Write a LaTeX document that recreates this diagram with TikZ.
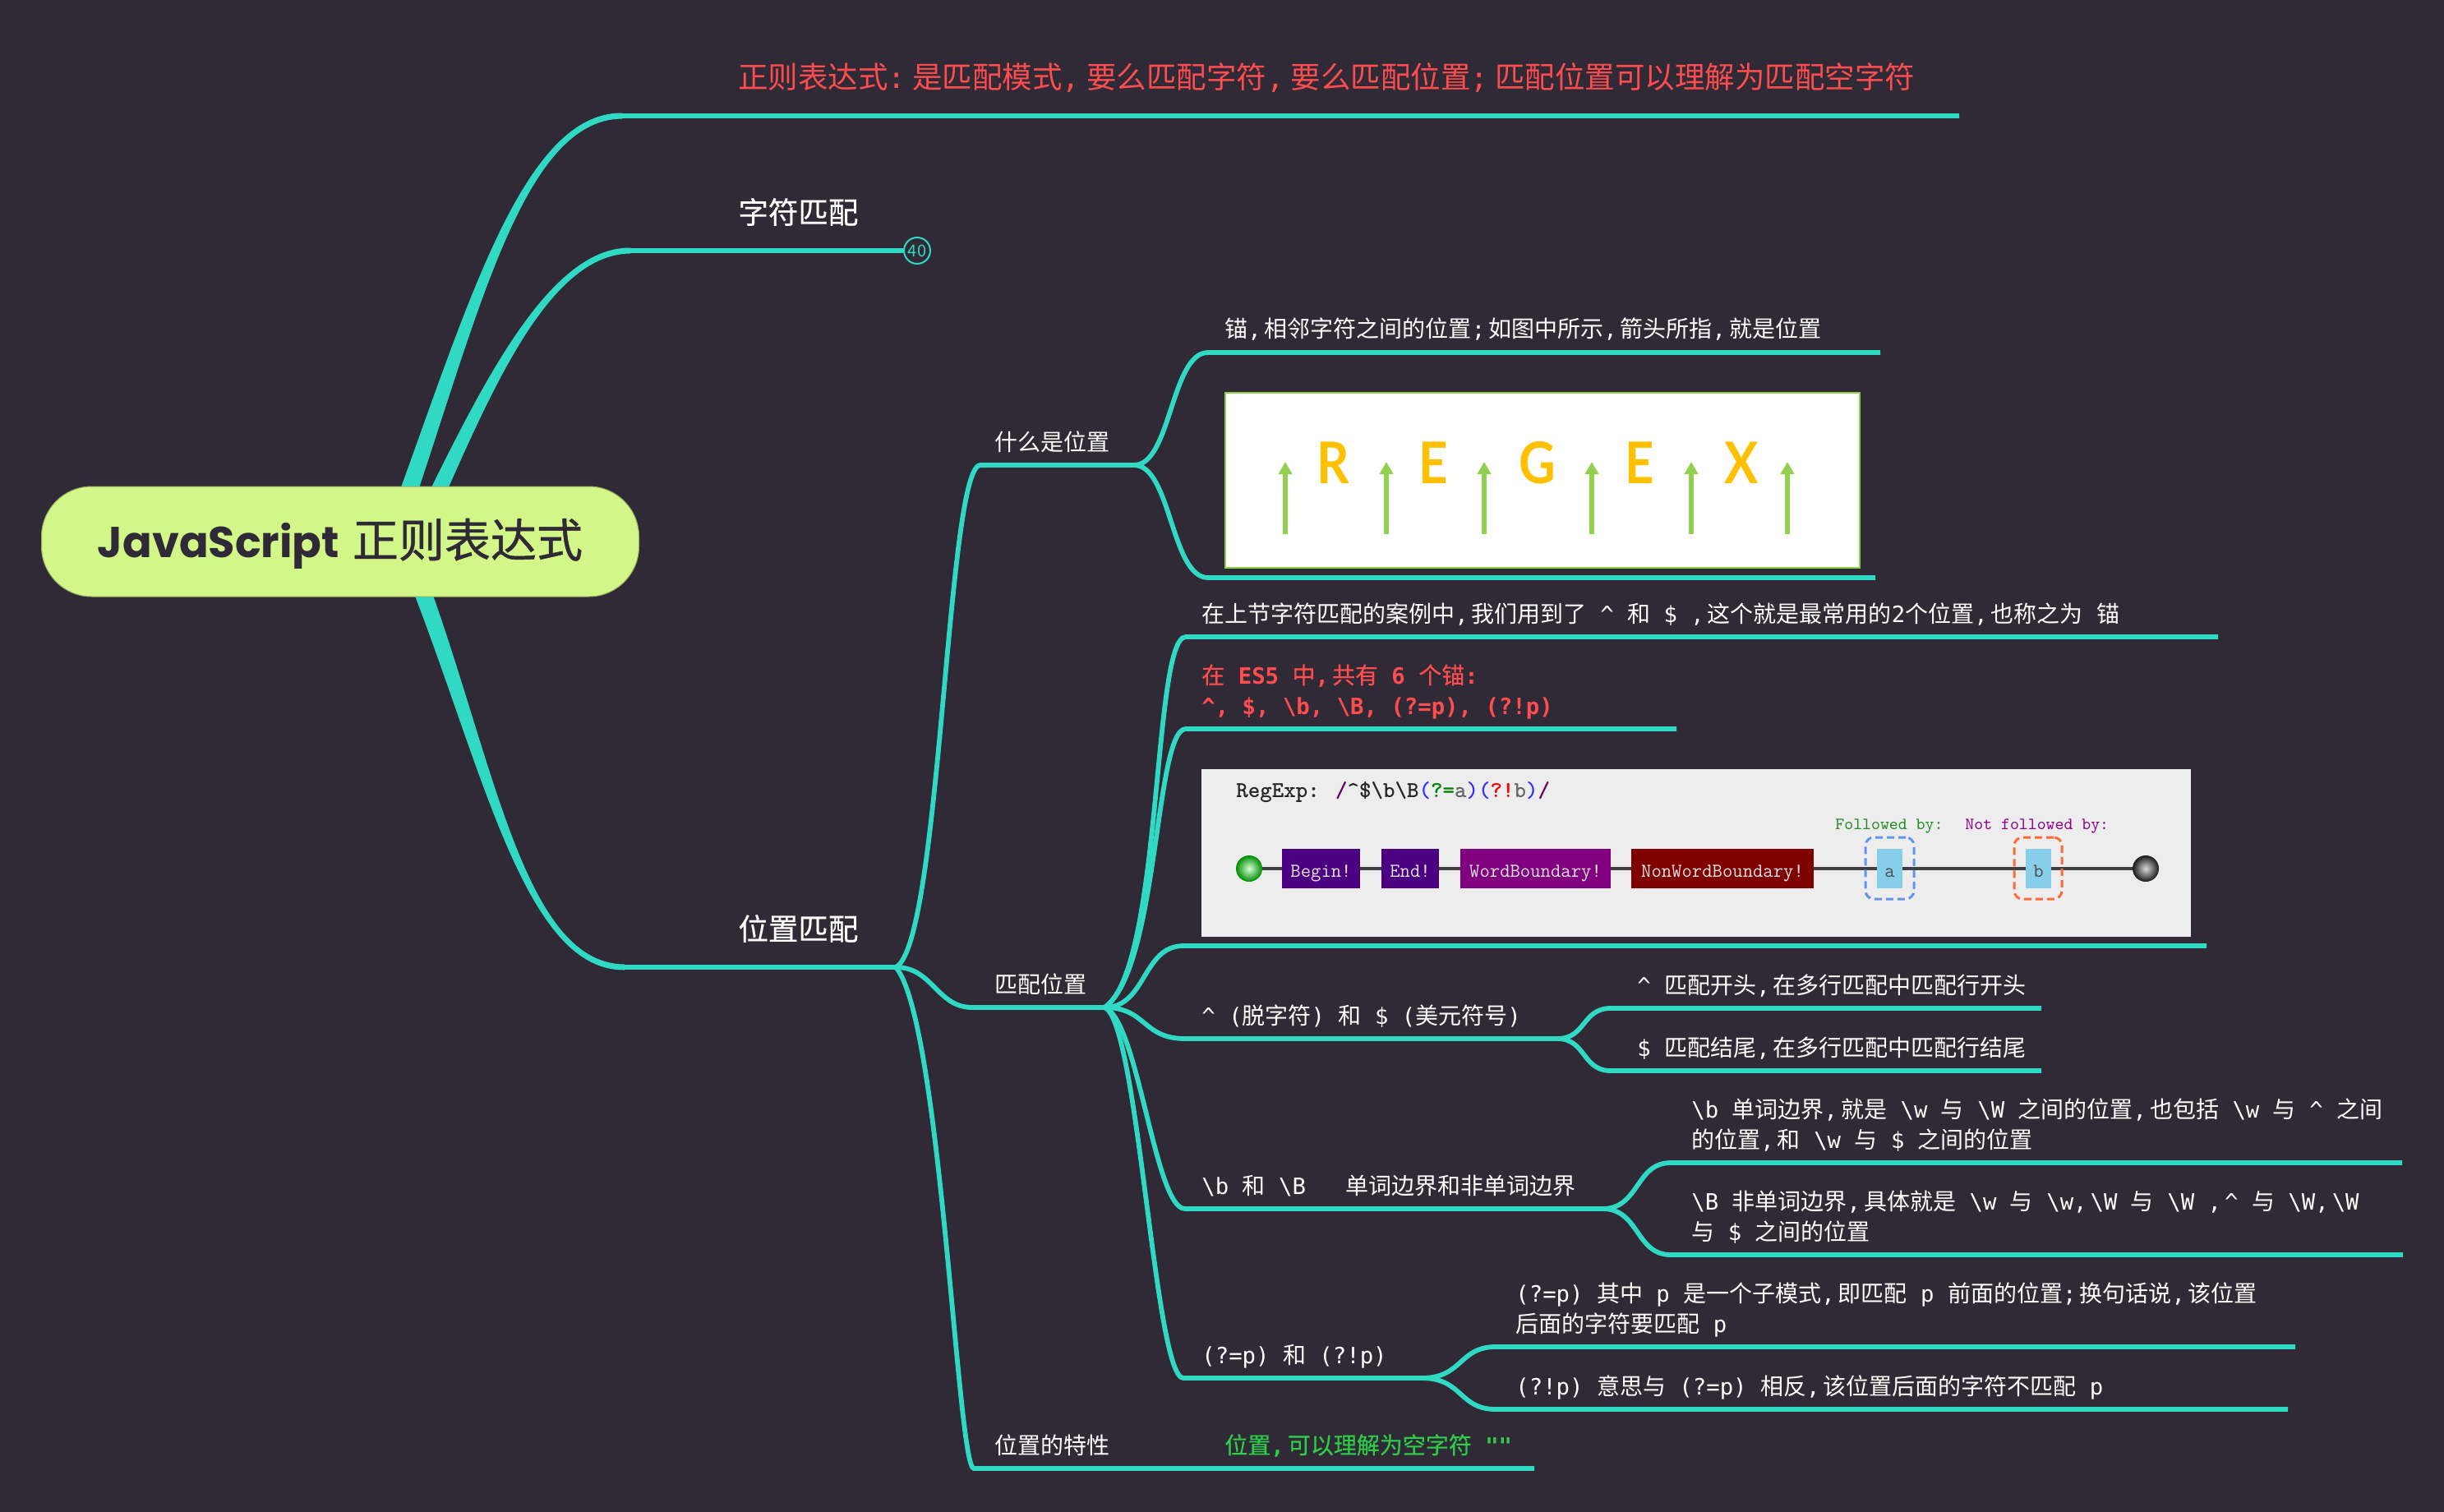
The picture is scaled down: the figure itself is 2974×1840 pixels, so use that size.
\documentclass[tikz,border=0pt]{standalone}
\usepackage{fontspec}
\usetikzlibrary{arrows.meta,shapes.geometric}
\setmainfont[Scale=0.975]{DejaVu Sans Mono}
\newfontfamily\rawm[Scale=0.975]{DejaVu Sans Mono}
\newfontfamily\cjk{Noto Sans CJK SC}
\newfontfamily\cjkm[FakeBold=0.4]{Noto Sans CJK SC}
\newfontfamily\cjkh[FakeBold=0.9]{Noto Sans CJK SC}
\newfontfamily\popp{Poppins}
\newfontfamily\regexf[FakeStretch=0.88]{Lato}
\newcommand{\C}[1]{{\cjk\mdseries #1}}
\newcommand{\Cm}[1]{{\cjkm\mdseries #1}}
\newcommand{\bs}{\textbackslash}
\newcommand{\ca}{\textasciicircum}
\newcommand{\cm}{,\hspace{2pt}}
\newcommand{\sm}{;\hspace{2pt}}
\newcommand{\cl}{:\hspace{2pt}}
\newcommand{\tc}{,\hspace{4pt}}
\newcommand{\ts}{;\hspace{4pt}}
\newcommand{\tl}{:\hspace{4pt}}
\newcommand{\twol}[2]{\vbox{\hbox{#1}\hbox{#2}}}
\definecolor{bgc}{HTML}{2F2A35}
\definecolor{mm}{HTML}{2FD9C4}
\definecolor{rootc}{HTML}{D2F788}
\definecolor{redc}{HTML}{FF4D4F}
\definecolor{greenc}{HTML}{2ECC48}
\definecolor{imgg}{HTML}{92D050}
\definecolor{imgy}{HTML}{FFC000}
\tikzset{
  mmline/.style={draw=mm,line width=2.9pt},
  lbl/.style={anchor=base west,inner sep=0pt,text=white,font=\fontsize{14}{18.5}\selectfont},
  big/.style={anchor=base west,inner sep=0pt,text=white,font=\fontsize{18.25}{22}\selectfont},
  rbox/.style={rectangle,inner sep=0pt,minimum height=24pt,text height=10pt,text depth=0pt,text=white!90!black,font=\ttfamily\fontsize{12}{14}\selectfont},
  lookbox/.style={rectangle,inner sep=0pt,minimum height=24pt,minimum width=15.5pt,text height=10pt,text depth=0pt,text=black!70,font=\ttfamily\fontsize{12}{14}\selectfont},
  dashbox/.style={rounded corners=5pt,dashed,dash pattern=on 4.5pt off 2.5pt,line width=1.5pt},
  regl/.style={anchor=base,inner sep=0pt,text=imgy,font=\regexf\bfseries\fontsize{35}{35}\selectfont},
  regarrow/.style={draw=imgg,line width=3pt,-{Triangle[width=8pt,length=7.5pt]}},
  ballnode/.style={circle,inner sep=0pt,minimum size=16pt},
  tlbl/.style={anchor=base west,inner sep=0pt,font=\ttfamily\fontsize{10.4}{12}\selectfont},
}
\begin{document}
\begin{tikzpicture}[x=0.5pt,y=-0.5pt]
\useasboundingbox (0,0) rectangle (2974,1840);
\fill[bgc] (0,0) rectangle (2974,1840);

% ---------- coordinates ----------
\coordinate (r1) at (476,658);
\coordinate (r2) at (505,658);
\coordinate (r3) at (490,658);
\coordinate (k1) at (757,141);   \coordinate (e1) at (2384,141);
\coordinate (k2) at (767,305);
\coordinate (k3) at (760,1177);  \coordinate (j3) at (1090,1177);
\coordinate (k31) at (1193,566); \coordinate (j31) at (1380,566);
\coordinate (k32) at (1183,1226);\coordinate (j32) at (1344,1226);
\coordinate (k33) at (1185,1787);\coordinate (e33) at (1867,1787);
\coordinate (k311) at (1470,429);\coordinate (e311) at (2288,429);
\coordinate (k312) at (1470,703);\coordinate (e312) at (2282,703);
\coordinate (k321) at (1443,775);\coordinate (e321) at (2699,775);
\coordinate (k322) at (1443,887);\coordinate (e322) at (2040,887);
\coordinate (k323) at (1440,1151);\coordinate (e323) at (2685,1151);
\coordinate (k324) at (1442,1264);\coordinate (j324) at (1895,1264);
\coordinate (k325) at (1442,1471);\coordinate (j325) at (1950,1471);
\coordinate (k326) at (1440,1677);\coordinate (j326) at (1730,1677);
\coordinate (a1) at (1960,1227); \coordinate (a1e) at (2484,1227);
\coordinate (a2) at (1960,1303); \coordinate (a2e) at (2484,1303);
\coordinate (b1) at (2033,1415); \coordinate (b1e) at (2923,1415);
\coordinate (b2) at (2033,1527); \coordinate (b2e) at (2924,1527);
\coordinate (c1) at (1820,1639); \coordinate (c1e) at (2793,1639);
\coordinate (c2) at (1820,1715); \coordinate (c2e) at (2784,1715);

% ---------- tapered main branches ----------
\draw[mmline] (r1) .. controls (570,400) and (630,141) .. (k1) -- (e1);
\fill[mm] (464,658) .. controls (562,398) and (630,136.5) .. (757,137.5) -- (757,144.5)
  .. controls (632,145.5) and (578,402) .. (488,658) -- cycle;
\draw[mmline] (r2) .. controls (580,500) and (660,305) .. (k2);
\fill[mm] (493,658) .. controls (573,497) and (660,300.5) .. (767,301.5) -- (767,308.5)
  .. controls (660,309.5) and (587,503) .. (517,658) -- cycle;
\draw[mmline] (r3) .. controls (590,900) and (630,1177) .. (k3) -- (j3);
\fill[mm] (478,658) .. controls (582,903) and (630,1181.5) .. (760,1180.5) -- (760,1173.5)
  .. controls (630,1172.5) and (598,897) .. (502,658) -- cycle;

% ---------- second level ----------
\draw[mmline] (j3) .. controls (1145,1150) and (1152,566) .. (k31) -- (j31);
\draw[mmline] (j3) .. controls (1135,1177) and (1140,1226) .. (k32) -- (j32);
\draw[mmline] (j3) .. controls (1145,1240) and (1165,1787) .. (k33) -- (e33);
% ---------- third level ----------
\draw[mmline] (j31) .. controls (1425,566) and (1425,429) .. (k311) -- (e311);
\draw[mmline] (j31) .. controls (1425,566) and (1425,703) .. (k312) -- (e312);
\draw[mmline] (j32) .. controls (1415,1180) and (1402,775) .. (k321) -- (e321);
\draw[mmline] (j32) .. controls (1410,1180) and (1405,887) .. (k322) -- (e322);
\draw[mmline] (j32) .. controls (1395,1226) and (1390,1151) .. (k323) -- (e323);
\draw[mmline] (j32) .. controls (1395,1226) and (1390,1264) .. (k324) -- (j324);
\draw[mmline] (j32) .. controls (1385,1240) and (1405,1471) .. (k325) -- (j325);
\draw[mmline] (j32) .. controls (1385,1240) and (1405,1677) .. (k326) -- (j326);
% ---------- fourth level ----------
\draw[mmline] (j324) .. controls (1930,1264) and (1925,1227) .. (a1) -- (a1e);
\draw[mmline] (j324) .. controls (1930,1264) and (1925,1303) .. (a2) -- (a2e);
\draw[mmline] (j325) .. controls (1995,1471) and (1990,1415) .. (b1) -- (b1e);
\draw[mmline] (j325) .. controls (1995,1471) and (1990,1527) .. (b2) -- (b2e);
\draw[mmline] (j326) .. controls (1780,1677) and (1775,1639) .. (c1) -- (c1e);
\draw[mmline] (j326) .. controls (1780,1677) and (1775,1715) .. (c2) -- (c2e);

% ---------- fold marker ----------
\node[circle,draw=mm,line width=1pt,minimum size=16pt,inner sep=0pt,text=mm] (fold) at (1116,305)
  {\cjk\fontsize{10}{10}\selectfont 40};
\draw[mmline] (k2) -- (fold.west);

% ---------- root ----------
\node[rectangle,rounded corners=30.5pt,fill=rootc,draw=rootc!70!black,line width=.5pt,minimum width=363.5pt,minimum height=67pt,inner sep=0pt] (root) at (414,659) {};
\node[anchor=base,inner sep=0pt,text=bgc] (roottxt) at (414,678)
  {{\popp\bfseries\fontsize{26.3}{30}\selectfont JavaScript}\hspace{8pt}{\cjkh\fontsize{28}{30}\selectfont 正则表达式}};

% ---------- texts ----------
\node[big,text=redc] (t1) at (898,108) {\C{正则表达式}\tl\C{是匹配模式}\tc\C{要么匹配字符}\tc\C{要么匹配位置}\ts\C{匹配位置可以理解为匹配空字符}};
\node[big] (t2) at (898,272) {\Cm{字符匹配}};
\node[big] (t3) at (898,1144) {\Cm{位置匹配}};
\node[lbl] (t31) at (1210,548) {\C{什么是位置}};
\node[lbl] (t32) at (1210,1208) {\C{匹配位置}};
\node[lbl] (t33) at (1210,1769) {\C{位置的特性}};
\node[lbl] (t311) at (1490,410) {\C{锚}\cm\C{相邻字符之间的位置}\sm\C{如图中所示}\cm\C{箭头所指}\cm\C{就是位置}};
\node[lbl] (t321) at (1462,757) {\C{在上节字符匹配的案例中}\cm\C{我们用到了} \ca{} \C{和} \$ \cm\C{这个就是最常用的}2\C{个位置}\cm\C{也称之为} \C{锚}};
\node[lbl,text=redc] (t322) at (1462,869) {\bfseries\twol{\Cm{在} ES5 \Cm{中}\cm\Cm{共有} 6 \Cm{个锚}\cl}{\ca{}, \$, \bs b, \bs B, (?=p), (?!p)}};
\node[lbl] (t324) at (1462,1246) {\ca{} (\C{脱字符}) \C{和} \$ (\C{美元符号})};
\node[lbl] (t325) at (1462,1453) {\bs b \C{和} \bs B\hspace{24pt}\C{单词边界和非单词边界}};
\node[lbl] (t326) at (1462,1659) {(?=p) \C{和} (?!p)};
\node[lbl] (ta1) at (1992,1209) {\ca{} \C{匹配开头}\cm\C{在多行匹配中匹配行开头}};
\node[lbl] (ta2) at (1992,1285) {\$ \C{匹配结尾}\cm\C{在多行匹配中匹配行结尾}};
\node[lbl] (tb1) at (2058,1397) {\twol{\bs b \C{单词边界}\cm\C{就是} \bs w \C{与} \bs W \C{之间的位置}\cm\C{也包括} \bs w \C{与} \ca{} \C{之间}}{\C{的位置}\cm\C{和} \bs w \C{与} \$ \C{之间的位置}}};
\node[lbl] (tb2) at (2058,1509) {\twol{\bs B \C{非单词边界}\cm\C{具体就是} \bs w \C{与} \bs w\cm\bs W \C{与} \bs W \cm\ca{} \C{与} \bs W\cm\bs W}{\C{与} \$ \C{之间的位置}}};
\node[lbl] (tc1) at (1844,1621) {\twol{(?=p) \C{其中} p \C{是一个子模式}\cm\C{即匹配} p \C{前面的位置}\sm\C{换句话说}\cm\C{该位置}}{\C{后面的字符要匹配} p}};
\node[lbl] (tc2) at (1844,1697) {(?!p) \C{意思与} (?=p) \C{相反}\cm\C{该位置后面的字符不匹配} p};
\node[lbl,text=greenc] (t331) at (1490,1769) {\bfseries\Cm{位置}\cm\Cm{可以理解为空字符} {\rawm\bfseries ""}};

% ---------- REGEX image ----------
\node[rectangle,fill=white,draw=imgg,line width=.7pt,minimum width=386pt,minimum height=106.5pt,inner sep=0pt] (img1) at (1877,584.5) {};
\foreach \ax in {1564,1687,1806,1937,2058,2175}
  \draw[regarrow] (\ax,650) -- (\ax,562);
\node[regl] (lr) at (1622,588) {R};
\node[regl] (le) at (1744,588) {E};
\node[regl] (lg) at (1871,588) {G};
\node[regl] (le2) at (1995,588) {E};
\node[regl] (lx) at (2119,588) {X};

% ---------- railroad image ----------
\node[rectangle,fill=black!7,minimum width=602pt,minimum height=102pt,inner sep=0pt] (img2) at (2064,1038) {};
\node[anchor=base west,inner sep=0pt,text=black!85,font=\ttfamily\bfseries\fontsize{13.8}{15}\selectfont] (rx) at (1504,970)
  {RegExp: \textcolor{violet!80!black}{/}\textasciicircum\$\textbackslash b\textbackslash B\textcolor{blue!80}{(}\textcolor{green!50!black}{?=}\textcolor{black!60}{a}\textcolor{blue!80}{)}\textcolor{blue!80}{(}\textcolor{red}{?!}\textcolor{black!60}{b}\textcolor{blue!80}{)}\textcolor{violet!80!black}{/}};
\node[ballnode,inner color=green!15!white,outer color=green!55!black] (sb) at (1520,1057) {};
\node[rbox,fill={rgb,255:red,75;green,0;blue,130},minimum width=47.5pt] (nb) at (1607.5,1057) {Begin!};
\node[rbox,fill={rgb,255:red,75;green,0;blue,130},minimum width=35pt] (ne) at (1716,1057) {End!};
\node[rbox,fill={rgb,255:red,128;green,0;blue,128},minimum width=91.5pt] (nw) at (1868.5,1057) {WordBoundary!};
\node[rbox,fill={rgb,255:red,128;green,0;blue,0},minimum width=111pt] (nn) at (2096,1057) {NonWordBoundary!};
\node[lookbox,fill={rgb,255:red,135;green,206;blue,235}] (na) at (2299.5,1057) {a};
\node[lookbox,fill={rgb,255:red,135;green,206;blue,235}] (nc) at (2480.5,1057) {b};
\node[ballnode,inner color=black!15,outer color=black!90] (fb) at (2611,1057) {};
\draw[black!75,line width=1.8pt] (sb) -- (nb) (nb) -- (ne) (ne) -- (nw) (nw) -- (nn) (nn) -- (na) (na) -- (nc) (nc) -- (fb);
\node[dashbox,draw={rgb,255:red,100;green,149;blue,237},minimum width=29.5pt,minimum height=37.5pt,inner sep=0pt] (da) at (2299.5,1056.5) {};
\node[dashbox,draw={rgb,255:red,255;green,105;blue,55},minimum width=29pt,minimum height=37.5pt,inner sep=0pt] (dc) at (2480,1056.5) {};
\node[tlbl,text={rgb,255:red,34;green,139;blue,34}] (fl) at (2233,1009) {Followed by:};
\node[tlbl,text={rgb,255:red,139;green,0;blue,139}] (nf) at (2391,1009) {Not followed by:};
\end{tikzpicture}
\end{document}
